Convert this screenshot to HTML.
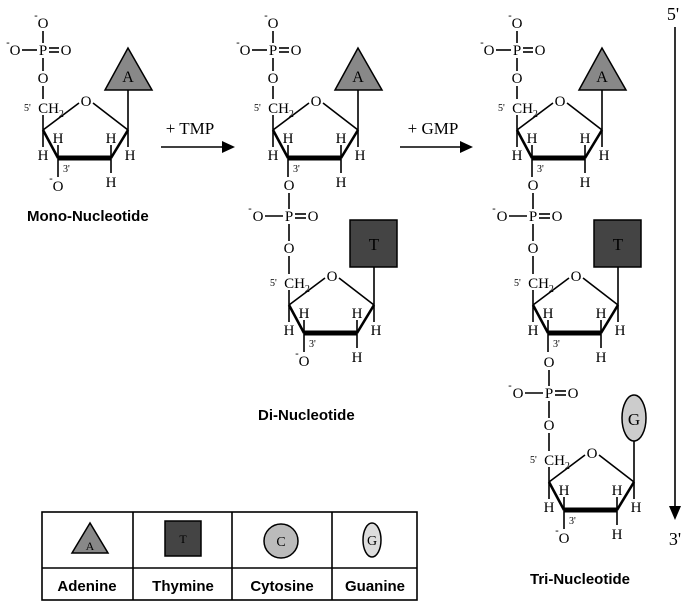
<!DOCTYPE html>
<html><head><meta charset="utf-8"><style>
html,body{margin:0;padding:0;background:#fff}
svg{display:block}
.a{font-family:"Liberation Serif",serif;font-size:15px;text-anchor:middle;fill:#000}
.s{font-family:"Liberation Serif",serif;font-size:10px;fill:#000}
.m{font-family:"Liberation Sans",sans-serif;font-size:11px;text-anchor:middle}
.l{font-family:"Liberation Sans",sans-serif;font-size:15px;font-weight:bold;fill:#000}
line{stroke:#000;stroke-width:1.6}
</style></head><body>
<svg width="685" height="602" viewBox="0 0 685 602" xmlns="http://www.w3.org/2000/svg">
<defs>
<g id="sugar">
<line x1="43" y1="115" x2="43" y2="130"/>
<text class="s" x="24" y="111">5'</text>
<text class="a" x="51" y="113">CH<tspan font-size="10" dy="4">2</tspan></text>
<text class="a" x="86" y="106">O</text>
<line x1="43" y1="130" x2="79" y2="103"/>
<line x1="93" y1="103" x2="128" y2="130"/>
<line x1="43" y1="130" x2="58" y2="158" style="stroke-width:2.6"/>
<line x1="58" y1="158" x2="111" y2="158" style="stroke-width:5"/>
<line x1="111" y1="158" x2="128" y2="130" style="stroke-width:2.6"/>
<line x1="58" y1="145" x2="58" y2="158"/><text class="a" x="58" y="143">H</text>
<line x1="43" y1="130" x2="43" y2="147"/><text class="a" x="43" y="160">H</text>
<line x1="111" y1="145" x2="111" y2="158"/><text class="a" x="111" y="143">H</text>
<line x1="128" y1="130" x2="128" y2="147"/><text class="a" x="130" y="160">H</text>
<line x1="111" y1="158" x2="111" y2="173"/><text class="a" x="111" y="187">H</text>
<line x1="58" y1="158" x2="58" y2="177"/>
<text class="s" x="63" y="172">3'</text>
<line x1="128" y1="130" x2="128" y2="88"/>
</g>
<g id="topP">
<text class="a" x="43" y="28">O</text><text class="m" x="36" y="19">-</text>
<line x1="43" y1="31" x2="43" y2="43"/>
<text class="a" x="43" y="55">P</text>
<text class="a" x="15" y="55">O</text><text class="m" x="8" y="46">-</text>
<line x1="22" y1="50" x2="37" y2="50"/>
<line x1="49" y1="48" x2="59" y2="48"/><line x1="49" y1="52" x2="59" y2="52"/>
<text class="a" x="66" y="55">O</text>
<line x1="43" y1="58" x2="43" y2="71"/>
<text class="a" x="43" y="83">O</text>
<line x1="43" y1="86" x2="43" y2="99"/>
</g>
<g id="endO">
<text class="a" x="58" y="191">O</text><text class="m" x="51" y="182">-</text>
</g>
<g id="linkP">
<text class="a" x="43" y="15">O</text>
<line x1="43" y1="18" x2="43" y2="34"/>
<text class="a" x="43" y="46">P</text>
<text class="a" x="12" y="46">O</text><text class="m" x="4" y="37">-</text>
<line x1="19" y1="41" x2="37" y2="41"/>
<line x1="49" y1="39" x2="60" y2="39"/><line x1="49" y1="43" x2="60" y2="43"/>
<text class="a" x="67" y="46">O</text>
<line x1="43" y1="49" x2="43" y2="66"/>
<text class="a" x="43" y="78">O</text>
<line x1="43" y1="81" x2="43" y2="99"/>
</g>
<g id="tri"><polygon points="128,48 105,90 152,90" fill="#888" stroke="#000" stroke-width="1.5"/><text class="a" x="128" y="82" style="font-size:16px">A</text></g>
<g id="tbox"><rect x="104" y="45" width="47" height="47" fill="#444" stroke="#000" stroke-width="1.5"/><text class="a" x="128" y="75" style="font-size:17px">T</text></g>
</defs>

<!-- Mono -->
<g transform="translate(0,0)"><use href="#topP"/><use href="#sugar"/><use href="#endO"/><use href="#tri"/></g>
<text class="l" x="27" y="221">Mono-Nucleotide</text>

<!-- arrows -->
<text class="a" x="190" y="134" style="font-size:17px">+ TMP</text>
<line x1="161" y1="147" x2="224" y2="147"/><polygon points="222,141 235,147 222,153"/>
<text class="a" x="433" y="134" style="font-size:17px">+ GMP</text>
<line x1="400" y1="147" x2="462" y2="147"/><polygon points="460,141 473,147 460,153"/>

<!-- Di -->
<g transform="translate(230,0)"><use href="#topP"/><use href="#sugar"/><use href="#tri"/></g>
<g transform="translate(246,175)"><use href="#linkP"/><use href="#sugar"/><use href="#endO"/><use href="#tbox"/></g>
<text class="l" x="258" y="420">Di-Nucleotide</text>

<!-- Tri -->
<g transform="translate(474,0)"><use href="#topP"/><use href="#sugar"/><use href="#tri"/></g>
<g transform="translate(490,175)"><use href="#linkP"/><use href="#sugar"/><use href="#tbox"/></g>
<g transform="translate(506,352)"><use href="#linkP"/><use href="#sugar"/><use href="#endO"/></g>
<ellipse cx="634" cy="418" rx="12" ry="23" fill="#ccc" stroke="#000" stroke-width="1.5"/>
<text class="a" x="634" y="425" style="font-size:17px">G</text>
<text class="l" x="530" y="584">Tri-Nucleotide</text>

<!-- 5'-3' -->
<text class="a" x="673" y="20" style="font-size:18px">5'</text>
<line x1="675" y1="27" x2="675" y2="508"/><polygon points="669,506 681,506 675,520"/>
<text class="a" x="675" y="545" style="font-size:18px">3'</text>

<!-- legend -->
<rect x="42" y="512" width="375" height="88" fill="none" stroke="#000" stroke-width="1.6"/>
<line x1="42" y1="568" x2="417" y2="568"/>
<line x1="133" y1="512" x2="133" y2="600"/>
<line x1="232" y1="512" x2="232" y2="600"/>
<line x1="332" y1="512" x2="332" y2="600"/>
<polygon points="90,523 72,553 108,553" fill="#888" stroke="#000" stroke-width="1.5"/>
<text class="a" x="90" y="550" style="font-size:12px">A</text>
<rect x="165" y="521" width="36" height="35" fill="#444" stroke="#000" stroke-width="1.5"/>
<text class="a" x="183" y="543" style="font-size:12px">T</text>
<circle cx="281" cy="541" r="17" fill="#bbb" stroke="#000" stroke-width="1.5"/>
<text class="a" x="281" y="546" style="font-size:14px">C</text>
<ellipse cx="372" cy="540" rx="9" ry="17" fill="#ddd" stroke="#000" stroke-width="1.5"/>
<text class="a" x="372" y="545" style="font-size:14px">G</text>
<text class="l" x="87" y="591" text-anchor="middle">Adenine</text>
<text class="l" x="183" y="591" text-anchor="middle">Thymine</text>
<text class="l" x="282" y="591" text-anchor="middle">Cytosine</text>
<text class="l" x="375" y="591" text-anchor="middle">Guanine</text>
</svg>
</body></html>
